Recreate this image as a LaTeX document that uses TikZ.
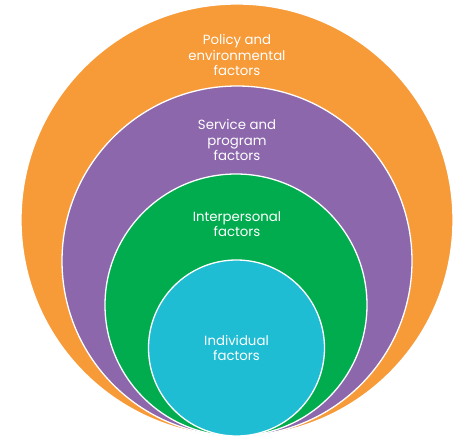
\documentclass[tikz,border=0pt]{standalone}
\usepackage{fontspec}
\setmainfont{Poppins}
\usepackage{xcolor}
\usepackage{tikz}
\usetikzlibrary{positioning}

\definecolor{policyorange}{HTML}{F79A38}
\definecolor{servicepurple}{HTML}{8C67AC}
\definecolor{peergreen}{HTML}{00AC4E}
\definecolor{selfcyan}{HTML}{1FBDD3}

\begin{document}
\begin{tikzpicture}[
    x=1pt, y=-1pt,
    ring/.style={circle, draw=white, line width=1.3pt, inner sep=0pt},
    lbl/.style={text=white, align=center, font=\fontsize{13.3}{15.5}\selectfont}
  ]
    \useasboundingbox (0,0) rectangle (474,441);

    % Nested circles, all touching at the bottom
    \node[ring, fill=policyorange, minimum size=432pt] (policy) at (237,220) {};
    \node[ring, fill=servicepurple, minimum size=350pt] (service) at (237,261) {};
    \node[ring, fill=peergreen, minimum size=262pt] (interpersonal) at (236,305) {};
    \node[ring, fill=selfcyan, minimum size=176pt] (individual) at (236.5,348) {};

    % Labels
    \node[lbl] (policyText) at (237,55) {Policy and\\environmental\\factors};
    \node[lbl] (serviceText) at (237,140) {Service and\\program\\factors};
    \node[lbl] (interpersonalText) at (237,224) {Interpersonal\\factors};
    \node[lbl] (individualText) at (individual) {Individual\\factors};

\end{tikzpicture}
\end{document}
